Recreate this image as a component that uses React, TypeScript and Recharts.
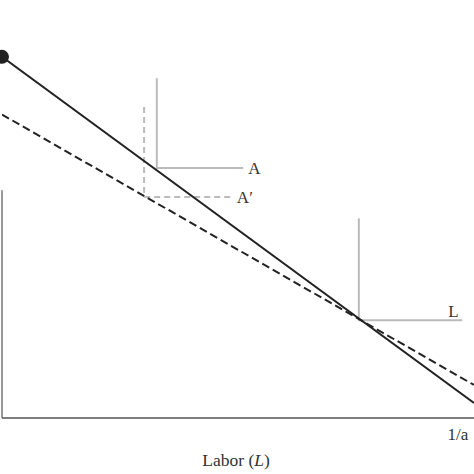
import {
  ComposedChart,
  Line,
  LabelList,
  Label,
  ReferenceDot,
  ReferenceLine,
  XAxis,
  YAxis,
} from "recharts";

type Pt = { x: number; y: number };

// budget lines (labor units on x, output-ish units on y)
const solidLine: Pt[] = [
  { x: 0, y: 86.4 },
  { x: 100, y: 3.6 },
];
const dashedLine: Pt[] = [
  { x: 0, y: 72.6 },
  { x: 100, y: 7.9 },
];

// L-shaped isoquants: top of vertical arm, corner, end of horizontal arm
const isoA: Pt[] = [
  { x: 32.8, y: 81.3 },
  { x: 32.8, y: 59.8 },
  { x: 51.1, y: 59.8 },
];
const isoA2: Pt[] = [
  { x: 30.1, y: 74.4 },
  { x: 30.1, y: 52.9 },
  { x: 48.7, y: 52.9 },
];
const isoL: Pt[] = [
  { x: 75.6, y: 47.8 },
  { x: 75.6, y: 23.4 },
  { x: 97.5, y: 23.4 },
];

const isoNames = ["A", "A\u2032", "L"];
const xTicks = [96.6];
const xTickLabels = ["1/a"];
const yAxisTop = 54.5;

const font = "'Liberation Serif', 'DejaVu Serif', serif";

// label at the end of the horizontal arm; "above" puts it over the arm instead
const endLabel = (text: string, above = false) => (props: any) => {
  if (props.index !== 2) return null;
  return (
    <text
      x={above ? props.x - 14 : props.x + 5}
      y={above ? props.y - 3 : props.y + 6}
      fontFamily={font}
      fontSize={17}
      fill="#333"
    >
      {text}
    </text>
  );
};

export default function App() {
  return (
    <div style={{ position: "absolute", left: 0, top: 0, background: "#fff" }}>
      <ComposedChart
        width={474}
        height={474}
        margin={{ top: 0, right: 0, left: 2, bottom: 0 }}
      >
        <XAxis
          type="number"
          dataKey="x"
          domain={[0, 100]}
          allowDataOverflow
          ticks={xTicks}
          tickFormatter={() => xTickLabels[0]}
          tickLine={false}
          axisLine={{ stroke: "#555", strokeWidth: 1.5 }}
          tick={{ fontFamily: font, fontSize: 17, fill: "#333", dy: 2 }}
          height={56}
        >
          <Label
            content={(p: any) => {
              const vb = p.viewBox;
              return (
                <text
                  x={vb.x + vb.width / 2 - 2}
                  y={vb.y + 48}
                  textAnchor="middle"
                  fontFamily={font}
                  fontSize={17.5}
                  fill="#333"
                >
                  Labor (<tspan fontStyle="italic">L</tspan>)
                </text>
              );
            }}
          />
        </XAxis>
        <YAxis type="number" dataKey="y" domain={[0, 100]} allowDataOverflow hide />
        <ReferenceLine
          segment={[
            { x: 0, y: 0 },
            { x: 0, y: yAxisTop },
          ]}
          stroke="#999"
          strokeWidth={2}
        />
        <Line
          data={isoA}
          dataKey="y"
          type="linear"
          stroke="#bbb"
          strokeWidth={2}
          dot={false}
          isAnimationActive={false}
        >
          <LabelList dataKey="y" content={endLabel(isoNames[0])} />
        </Line>
        <Line
          data={isoA2}
          dataKey="y"
          type="linear"
          stroke="#bbb"
          strokeWidth={2}
          strokeDasharray="6 4"
          dot={false}
          isAnimationActive={false}
        >
          <LabelList dataKey="y" content={endLabel(isoNames[1])} />
        </Line>
        <Line
          data={isoL}
          dataKey="y"
          type="linear"
          stroke="#bbb"
          strokeWidth={2}
          dot={false}
          isAnimationActive={false}
        >
          <LabelList dataKey="y" content={endLabel(isoNames[2], true)} />
        </Line>
        <Line
          data={dashedLine}
          dataKey="y"
          type="linear"
          stroke="#222"
          strokeWidth={2}
          strokeDasharray="8 4"
          dot={false}
          isAnimationActive={false}
        />
        <Line
          data={solidLine}
          dataKey="y"
          type="linear"
          stroke="#222"
          strokeWidth={2}
          dot={false}
          isAnimationActive={false}
        />
        <ReferenceDot
          x={solidLine[0].x}
          y={solidLine[0].y}
          r={7}
          fill="#222"
          stroke="none"
        />
      </ComposedChart>
    </div>
  );
}
